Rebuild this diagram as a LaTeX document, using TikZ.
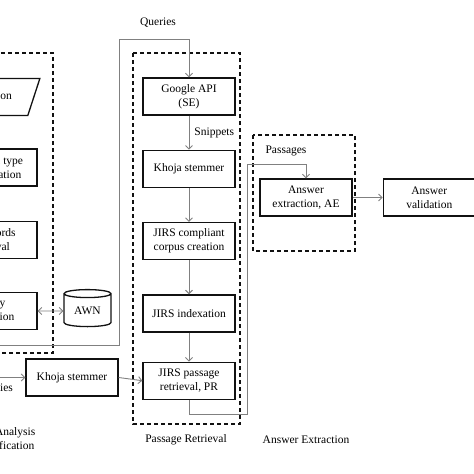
\documentclass[tikz,border=0pt]{standalone}
\usepackage{fontspec}
\setmainfont{Liberation Serif}
\usepackage{xcolor}
\usepackage{tikz}
\usetikzlibrary{arrows.meta,positioning,shapes.geometric}
\definecolor{qaline}{HTML}{808080}
\definecolor{qadark}{HTML}{111111}
\tikzset{
  box/.style={draw=qadark,line width=1.3pt,fill=white,align=center,minimum width=92pt,minimum height=37pt,inner sep=2pt},
  inbox/.style={box,trapezium,trapezium left angle=61,trapezium right angle=119,trapezium stretches=true,minimum width=98pt},
  db/.style={draw=qadark,line width=1.3pt,cylinder,shape border rotate=90,aspect=0.28,minimum width=47pt,minimum height=37pt,inner sep=1pt},
  group/.style={draw=qadark,line width=1.2pt,dash pattern=on 4pt off 3pt},
  ar/.style={-{Straight Barb[length=3.5pt,width=7pt]},draw=qaline,line width=0.9pt},
  dar/.style={ar,{Straight Barb[length=3.5pt,width=7pt]}-{Straight Barb[length=3.5pt,width=7pt]}},
  lbl/.style={inner sep=0pt,align=center},
}

\begin{document}
\begin{tikzpicture}[x=1pt,y=-1pt,font=\fontsize{11.5}{14}\selectfont,node distance=34pt]
  \useasboundingbox (0,0) rectangle (474,474);
  \clip (0,0) rectangle (474,474);
  % question analysis (cut at the left)
  \node[inbox] (quest) at (-9,97) {Question};
  \node[box] (qtype) at (-9,167.5) {Question type\\classification};
  \node[box] (stopw) at (-9,240) {Stopwords\\removal};
  \node[box] (qexp) at (-9,311) {Query\\expansion};
  \node[db] (awn) at (87.5,311) {AWN};
  \node[box] (kstem1) at (72,377.5) {Khoja stemmer};
  % passage retrieval
  \node[box] (google) at (189,96.5) {Google API\\(SE)};
  \node[box,below=of google] (kstem2) {Khoja stemmer};
  \node[box,below=of kstem2] (corpus) {JIRS compliant\\corpus creation};
  \node[box,below=of corpus] (index) {JIRS indexation};
  \node[box,below=29pt of index] (pr) {JIRS passage\\retrieval, PR};
  % answer extraction
  \node[box] (ae) at (306,197.5) {Answer\\extraction, AE};
  \node[box,right=30pt of ae] (valid) {Answer\\validation};
  % groups
  \draw[group] (-20,53) -| (53,353) -- (-20,353);
  \draw[group] (133,53) rectangle (240,424);
  \draw[group] (253,135) rectangle (355,251);
  \node[lbl] (lqa) at (-7,438.5) {Question Analysis\\and Classification};
  \node[lbl] (lpr) at (186,440) {Passage Retrieval};
  \node[lbl] (lae) at (306,440) {Answer Extraction};
  % connectors
  \coordinate (qin) at (-20,345);
  \coordinate (qtop) at (119,39);
  \coordinate (qin2) at (-20,377.5);
  \draw[ar] (qin) -| (qtop) -| (google.north);
  \node[lbl] (lq1) at (158,23) {Queries};
  \draw[ar] (qin2) -- (kstem1.west);
  \node[lbl] (lq2) at (-5,389) {Queries};
  \draw[dar] (qexp.east) -- (awn.west);
  \draw[ar] (kstem1.east) -- (pr.west);
  \draw[ar] (google) -- node[lbl,right=5pt] (lsn) {Snippets} (kstem2);
  \draw[ar] (kstem2) -- (corpus);
  \draw[ar] (corpus) -- (index);
  \draw[ar] (index) -- (pr);
  \coordinate (pturn) at (247,164);
  \draw[ar] (pr.south) -- ++(0,15) -| (pturn) -| (ae.north);
  \node[lbl] (lpa) at (286,151) {Passages};
  \draw[ar] (ae) -- (valid);
\end{tikzpicture}
\end{document}
